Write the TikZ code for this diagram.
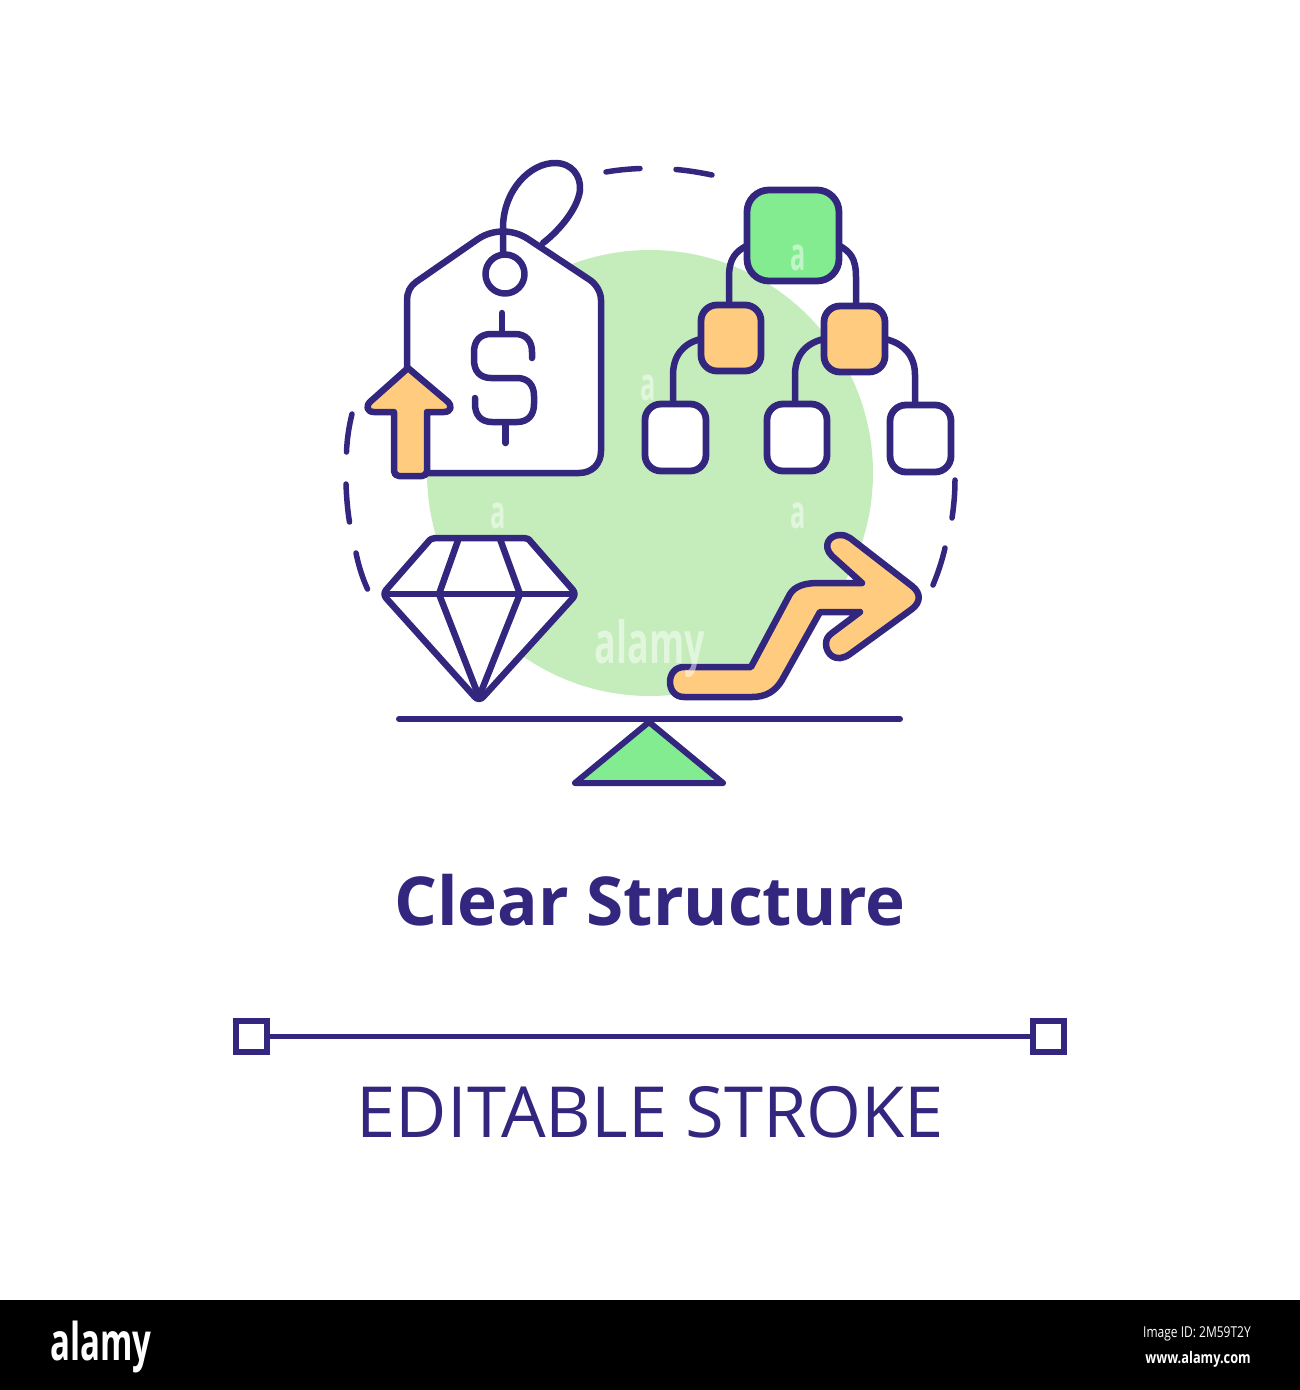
\documentclass[tikz,border=0pt]{standalone}
\usepackage{fontspec}
\usepackage{graphicx}
\setmainfont{Open Sans}
\definecolor{ink}{HTML}{32267F}
\definecolor{pale}{HTML}{C5EDBC}
\definecolor{mint}{HTML}{83EC90}
\definecolor{peach}{HTML}{FFCC7F}
\usetikzlibrary{calc}
\tikzset{
  inkline/.style={draw=ink,line width=6.5pt,line cap=round,line join=round},
  dashpart/.style={draw=ink,line width=5.5pt,line cap=round},
  card/.style={draw=ink,line width=6.8pt,inner sep=0pt,outer sep=0pt,rounded corners=16pt},
  link/.style={draw=ink,line width=6.5pt},
  stockmark/.style={white,opacity=.5,inner sep=0pt,anchor=base},
  smalla/.style={stockmark,font=\fontsize{46}{46}\selectfont\bfseries},
  handle/.style={draw=ink,line width=5.5pt,fill=white,minimum size=31pt,inner sep=0pt,outer sep=0pt},
}
\begin{document}
\begin{tikzpicture}[x=1pt,y=-1pt]
\useasboundingbox (0,0) rectangle (1300,1390);
\fill[white] (0,0) rectangle (1300,1390);
\fill[black] (0,1300) rectangle (1300,1390);
% background disc
\fill[pale] (650,473) circle (223);
% dashed ring
\draw[dashpart] (606,172) .. controls (617,170) and (629,169) .. (640,168.5);
\draw[dashpart] (676,169.5) .. controls (688,170.5) and (700,172.5) .. (712,175);
\draw[dashpart] (352,414) .. controls (349,426) and (347,439) .. (346.5,452);
\draw[dashpart] (346,484) .. controls (346.5,497) and (347.5,510) .. (349.5,522);
\draw[dashpart] (356,553) .. controls (358.5,565) and (362,577) .. (367.5,589);
\draw[dashpart] (955,480) .. controls (955,492) and (954,505) .. (952,518);
\draw[dashpart] (945,548) .. controls (942,561) and (938,573) .. (933,585);
% price tag
\draw[inkline,fill=white] (407,473) -- (407,300) .. controls (407,293) and (410,286) .. (416,282)
  -- (478,239) .. controls (493,229) and (513,229) .. (528,239)
  -- (590,280) .. controls (597,285) and (601,293) .. (601,300)
  -- (601,451) .. controls (601,464) and (592,473) .. (579,473) -- cycle;
\draw[inkline] (503,253) -- (503,226) .. controls (504,190) and (530,163) .. (555,163)
  .. controls (572,163) and (581,176) .. (580,190) .. controls (578,208) and (560,230) .. (543,243);
\draw[inkline,fill=white] (505,274) circle (19.5);
% dollar sign
\draw[inkline] (502,313) -- (502,333);
\draw[inkline] (532,358) -- (532,352) .. controls (532,341) and (526,334) .. (515,334) -- (491,334)
  .. controls (480,334) and (474,341) .. (474,352) -- (474,360) .. controls (474,371) and (480,378) .. (491,378)
  -- (517,378) .. controls (528,378) and (534,385) .. (534,396) -- (534,404) .. controls (534,415) and (528,422) .. (517,422)
  -- (492,422) .. controls (481,422) and (475,415) .. (475,404) -- (475,398);
\draw[inkline] (505.5,423) -- (505.5,443);
% up arrow
\draw[inkline,fill=peach] (408,368) -- (447,401) .. controls (453,406) and (451,412) .. (444,412)
  -- (427,412) -- (427,471) .. controls (427,474) and (425,476) .. (422,476) -- (399,476)
  .. controls (396,476) and (394,474) .. (394,471) -- (394,412) -- (374,412)
  .. controls (367,412) and (365,406) .. (371,401) -- cycle;
% hierarchy
\node[card,fill=mint,rounded corners=22pt,minimum width=92pt,minimum height=91pt] (top) at (793,235.5) {};
\node[card,fill=peach,minimum width=60pt,minimum height=66pt] (midl) at (731,338) {};
\node[card,fill=peach,minimum width=61pt,minimum height=66pt] (midr) at (854.5,339) {};
\node[card,fill=white,minimum width=61pt,minimum height=67pt] (lowa) at (675.5,437.5) {};
\node[card,fill=white,minimum width=60pt,minimum height=67pt] (lowb) at (797,437.5) {};
\node[card,fill=white,minimum width=61pt,minimum height=67pt] (lowc) at (920.5,438.5) {};
\draw[link] ([yshift=-10pt]top.west) .. controls +(-11,6) and (729,258) .. (729,277) -- ([xshift=-2pt]midl.north);
\draw[link] ([yshift=-10pt]top.east) .. controls +(11,6) and (856,258) .. (856,277) -- ([xshift=1.5pt]midr.north);
\draw[link] ([yshift=-1pt]midl.west) .. controls +(-17,4) and (673,355) .. (673,375) -- ([xshift=-2.5pt]lowa.north);
\draw[link] ([yshift=0pt]midr.west) .. controls +(-18,4) and (795,355) .. (795,375) -- ([xshift=-2pt]lowb.north);
\draw[link] ([yshift=0pt]midr.east) .. controls +(18,4) and (915,355) .. (915,375) -- ([xshift=-5.5pt]lowc.north);
% diamond
\draw[inkline,fill=white] (436,538) -- (524,538) .. controls (527,538) and (529,539) .. (531,542)
  -- (573,590) .. controls (575,593) and (575,595) .. (573,598)
  -- (484,696) .. controls (481,700) and (477,700) .. (474,696)
  -- (386,598) .. controls (384,595) and (384,593) .. (386,590)
  -- (428,542) .. controls (430,539) and (433,538) .. (436,538) -- cycle;
\draw[inkline] (385,594) -- (574,594);
\draw[inkline] (458.5,539) -- (439,594) -- (479,697) -- (520,594) -- (500,539);
% curved arrow
\draw[inkline,fill=peach] (684,667) -- (751,667) -- (790,594) .. controls (795,586) and (805,583) .. (818,583) -- (862,583)
  -- (832,556) .. controls (822,546) and (829,535) .. (840,535) .. controls (844,535) and (847,536) .. (850,538)
  -- (912,586) .. controls (921,593) and (921,602) .. (912,609)
  -- (850,654) .. controls (836,664) and (826,654) .. (826,644) .. controls (826,639) and (828,636) .. (832,633)
  -- (860,612) -- (820,612) -- (782,680) .. controls (775,692) and (765,697) .. (752,697) -- (684,697)
  .. controls (675,697) and (670,690) .. (670,682) .. controls (670,674) and (675,667) .. (684,667) -- cycle;
% balance
\fill[mint,draw=ink,line width=6pt,line join=round] (649,722) -- (723,783) -- (575,783) -- cycle;
\draw[inkline,line width=6pt] (399,719) -- (900,719);
% title
\node[text=ink,inner sep=0pt,anchor=base,font=\fontsize{67.5}{67.5}\selectfont\bfseries] (title) at (650,925) {Clear Structure};
% slider
\node[handle] (sl) at (251.5,1036.5) {};
\node[handle] (sr) at (1048.5,1036.5) {};
\draw[draw=ink,line width=5.5pt] (sl) -- (sr);
\node[text=ink,inner sep=0pt,anchor=base,font=\fontsize{70.5}{70.5}\selectfont] (edit) at (650.5,1137) {EDITABLE STROKE};
% stock marks
\node[smalla] (w1) at (798,270) {\scalebox{.55}[1]{a}};
\node[smalla] (w2) at (648,400) {\scalebox{.55}[1]{a}};
\node[smalla] (w3) at (498,528) {\scalebox{.55}[1]{a}};
\node[smalla] (w4) at (798,528) {\scalebox{.55}[1]{a}};
\node[stockmark,font=\fontsize{58}{58}\selectfont\bfseries] (w5) at (650,663) {\scalebox{.62}[1]{alamy}};
\node[white,inner sep=0pt,anchor=base west,font=\fontsize{52}{52}\selectfont\bfseries] (logo) at (50,1360) {\scalebox{.635}[1]{alamy}};
\node[white,inner sep=0pt,anchor=base east,font=\fontsize{15}{15}\selectfont] (idt) at (1251,1337) {\scalebox{.8}[1]{Image ID: 2M59T2Y}};
\node[white,inner sep=0pt,anchor=base east,font=\fontsize{16}{16}\selectfont\bfseries] (url) at (1251,1363) {\scalebox{.8}[1]{www.alamy.com}};
\end{tikzpicture}
\end{document}
